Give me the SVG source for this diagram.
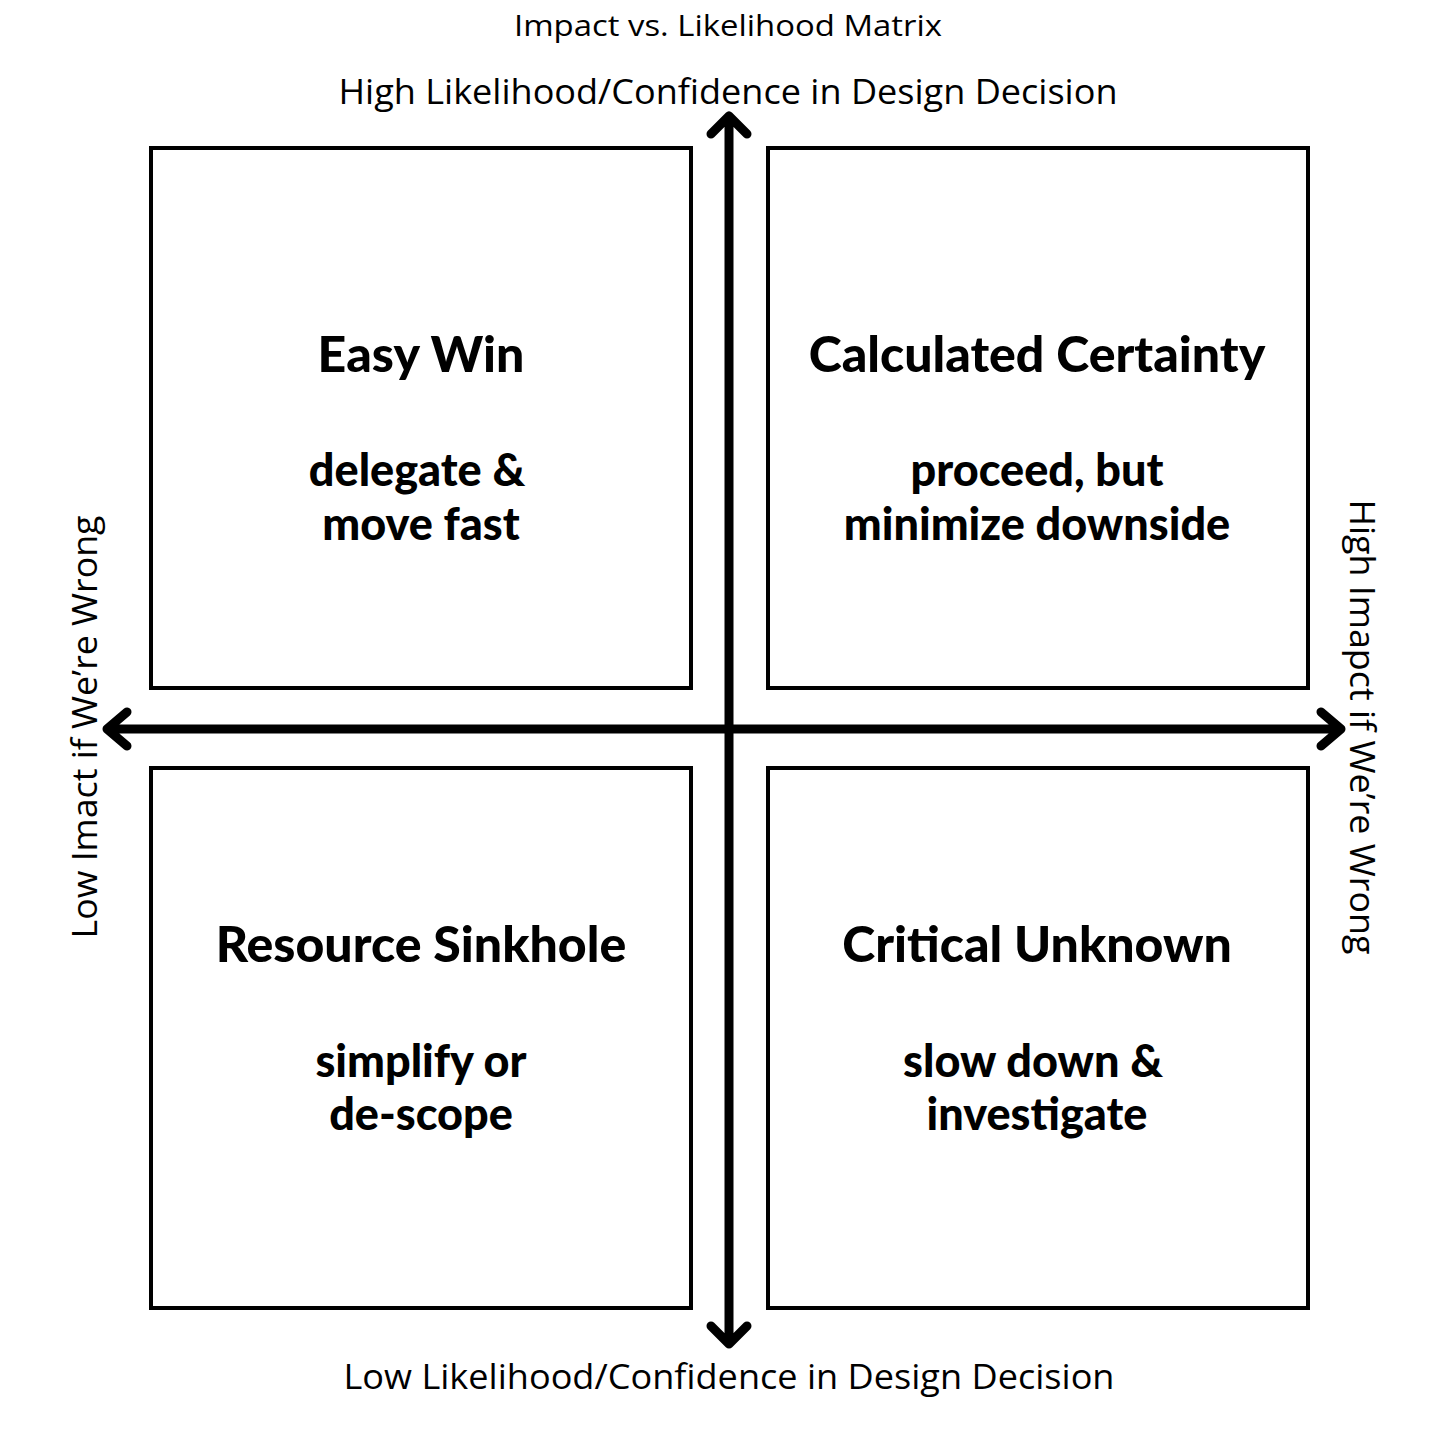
<svg xmlns="http://www.w3.org/2000/svg" width="1456" height="1456" viewBox="0 0 1456 1456">
<style>
.box{fill:#fff;stroke:#000;stroke-width:4}
.ax{fill:none;stroke:#000;stroke-width:9;stroke-linecap:round;stroke-linejoin:round}
.h{font-family:Lato,"Liberation Sans",sans-serif;font-weight:900;font-size:50px;text-anchor:middle;fill:#000}
.s{font-family:Lato,"Liberation Sans",sans-serif;font-weight:900;font-size:45px;text-anchor:middle;fill:#000}
.l{font-family:"Open Sans","Noto Sans",sans-serif;font-size:34px;text-anchor:middle;fill:#000}
.t{font-family:"Open Sans","Noto Sans",sans-serif;font-size:30px;text-anchor:middle;fill:#000}
</style>
<rect width="1456" height="1456" fill="#fff"/>
<text class="t" x="728" y="36" textLength="428" lengthAdjust="spacingAndGlyphs">Impact vs. Likelihood Matrix</text>
<text class="l" x="728" y="104" textLength="779" lengthAdjust="spacingAndGlyphs">High Likelihood/Confidence in Design Decision</text>
<text class="l" x="729" y="1389" textLength="771" lengthAdjust="spacingAndGlyphs">Low Likelihood/Confidence in Design Decision</text>
<text class="l" transform="translate(97,727) rotate(-90)" textLength="423" lengthAdjust="spacingAndGlyphs">Low Imact if We’re Wrong</text>
<text class="l" transform="translate(1350,727) rotate(90)" textLength="455" lengthAdjust="spacingAndGlyphs">High Imapct if We’re Wrong</text>
<g id="q1"><rect class="box" x="151" y="148" width="540" height="540"/>
<text class="h" x="421" y="372">Easy Win</text>
<text class="s" x="417" y="486">delegate &amp;</text>
<text class="s" x="421" y="540">move fast</text></g>
<g id="q2"><rect class="box" x="768" y="148" width="540" height="540"/>
<text class="h" x="1037" y="372">Calculated Certainty</text>
<text class="s" x="1037" y="486">proceed, but</text>
<text class="s" x="1037" y="540">minimize downside</text></g>
<g id="q3"><rect class="box" x="151" y="768" width="540" height="540"/>
<text class="h" x="421" y="962">Resource Sinkhole</text>
<text class="s" x="421" y="1077">simplify or</text>
<text class="s" x="421" y="1130">de-scope</text></g>
<g id="q4"><rect class="box" x="768" y="768" width="540" height="540"/>
<text class="h" x="1037" y="962">Critical Unknown</text>
<text class="s" x="1033" y="1077">slow down &amp;</text>
<text class="s" x="1037" y="1130">investigate</text></g>
<g id="connectors">
<path class="ax" d="M729 116V1344M711 134L729 116L747 134M711 1326L729 1344L747 1326"/>
<path class="ax" d="M107 729H1341M127 712L107 729L127 746M1321 712L1341 729L1321 746"/>
</g>
</svg>
